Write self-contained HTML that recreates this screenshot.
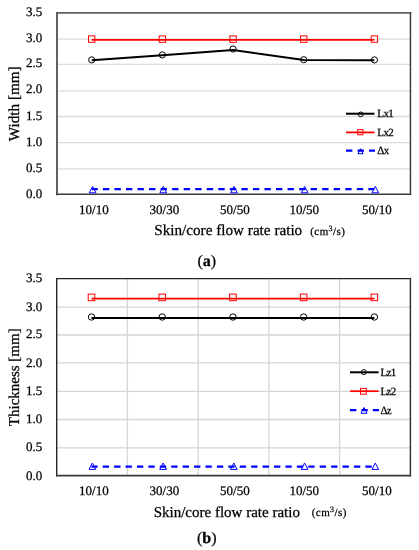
<!DOCTYPE html>
<html><head><meta charset="utf-8"><style>
html,body{margin:0;padding:0;background:#fff;}
svg{display:block;}
text{font-family:"Liberation Serif","Times New Roman",serif;fill:#000;stroke:#000;stroke-width:0.25px;text-rendering:geometricPrecision;}
.tk{font-size:13px;}
.lg{font-size:11px;letter-spacing:-0.6px;}
.ax{font-size:15.2px;}
.un{font-size:11px;letter-spacing:0.4px;}
.sup{font-size:8px;}
.cap{font-size:16px;}
</style></head><body>
<svg width="419" height="550" viewBox="0 0 419 550">
<rect width="419" height="550" fill="#fff"/>
<line x1="57" y1="168.9" x2="410.4" y2="168.9" stroke="#dcdcdc" stroke-width="1.3"/>
<line x1="57" y1="142.6" x2="410.4" y2="142.6" stroke="#dcdcdc" stroke-width="1.3"/>
<line x1="57" y1="116.5" x2="410.4" y2="116.5" stroke="#dcdcdc" stroke-width="1.3"/>
<line x1="57" y1="90.8" x2="410.4" y2="90.8" stroke="#dcdcdc" stroke-width="1.3"/>
<line x1="57" y1="64.4" x2="410.4" y2="64.4" stroke="#dcdcdc" stroke-width="1.3"/>
<line x1="57" y1="39.2" x2="410.4" y2="39.2" stroke="#dcdcdc" stroke-width="1.3"/>
<line x1="57" y1="12.9" x2="410.4" y2="12.9" stroke="#606060" stroke-width="1.8" stroke-linecap="square"/>
<line x1="57" y1="12.9" x2="57" y2="194.3" stroke="#5a5a5a" stroke-width="1.9" stroke-linecap="square"/>
<line x1="410.45" y1="12.9" x2="410.45" y2="194.3" stroke="#3c3c3c" stroke-width="1.5" stroke-linecap="square"/>
<line x1="57" y1="194.3" x2="410.45" y2="194.3" stroke="#3c3c3c" stroke-width="1.5" stroke-linecap="square"/>
<text x="42.3" y="198.15" text-anchor="end" class="tk">0.0</text>
<text x="42.3" y="172.05" text-anchor="end" class="tk">0.5</text>
<text x="42.3" y="145.75" text-anchor="end" class="tk">1.0</text>
<text x="42.3" y="120.15" text-anchor="end" class="tk">1.5</text>
<text x="42.3" y="93.45" text-anchor="end" class="tk">2.0</text>
<text x="42.3" y="67.15" text-anchor="end" class="tk">2.5</text>
<text x="42.3" y="41.55" text-anchor="end" class="tk">3.0</text>
<text x="42.3" y="15.75" text-anchor="end" class="tk">3.5</text>
<text x="93.9" y="213.8" text-anchor="middle" class="tk">10/10</text>
<text x="164.4" y="213.8" text-anchor="middle" class="tk">30/30</text>
<text x="234.9" y="213.8" text-anchor="middle" class="tk">50/50</text>
<text x="304.3" y="213.8" text-anchor="middle" class="tk">10/50</text>
<text x="376.9" y="213.8" text-anchor="middle" class="tk">50/10</text>
<polyline points="91.7,60.2 162.38,55.3 233.06,49.9 303.74,60.1 374.42,60.2" fill="none" stroke="#000" stroke-width="2"/>
<circle cx="91.7" cy="59.9" r="3.1" fill="none" stroke="#000" stroke-width="1.0"/>
<circle cx="162.38" cy="54.9" r="3.1" fill="none" stroke="#000" stroke-width="1.0"/>
<circle cx="233.06" cy="49" r="3.1" fill="none" stroke="#000" stroke-width="1.0"/>
<circle cx="303.74" cy="59.7" r="3.1" fill="none" stroke="#000" stroke-width="1.0"/>
<circle cx="374.42" cy="59.9" r="3.1" fill="none" stroke="#000" stroke-width="1.0"/>
<polyline points="91.7,39.9 162.38,39.9 233.06,39.9 303.74,39.9 374.42,39.9" fill="none" stroke="#f00" stroke-width="1.8"/>
<rect x="88.5" y="35.9" width="6.4" height="6.4" fill="none" stroke="#f00" stroke-width="1.0"/>
<rect x="159.18" y="35.9" width="6.4" height="6.4" fill="none" stroke="#f00" stroke-width="1.0"/>
<rect x="229.86" y="35.9" width="6.4" height="6.4" fill="none" stroke="#f00" stroke-width="1.0"/>
<rect x="300.54" y="35.9" width="6.4" height="6.4" fill="none" stroke="#f00" stroke-width="1.0"/>
<rect x="371.22" y="35.9" width="6.4" height="6.4" fill="none" stroke="#f00" stroke-width="1.0"/>
<polyline points="91.7,189.1 162.38,189.1 233.06,189.1 303.74,189.1 374.42,189.1" fill="none" stroke="#00f" stroke-width="2.1" stroke-dasharray="6.4 5.14" stroke-dashoffset="0.34"/>
<polygon points="92.6,186.4 95.96,192.8 89.24,192.8" fill="none" stroke="#00f" stroke-width="1.0"/>
<polygon points="163.28,186.4 166.64,192.8 159.92,192.8" fill="none" stroke="#00f" stroke-width="1.0"/>
<polygon points="233.96,186.4 237.32,192.8 230.6,192.8" fill="none" stroke="#00f" stroke-width="1.0"/>
<polygon points="304.64,186.4 308,192.8 301.28,192.8" fill="none" stroke="#00f" stroke-width="1.0"/>
<polygon points="375.32,186.4 378.68,192.8 371.96,192.8" fill="none" stroke="#00f" stroke-width="1.0"/>
<line x1="346" y1="113.7" x2="374.5" y2="113.7" stroke="#000" stroke-width="2"/>
<circle cx="360.7" cy="114.4" r="2.4" fill="none" stroke="#000" stroke-width="1.0"/>
<text x="377.3" y="117" class="lg">Lx1</text>
<line x1="346" y1="132.4" x2="374.5" y2="132.4" stroke="#f00" stroke-width="1.8"/>
<rect x="357.7" y="129.6" width="5.2" height="5.2" fill="none" stroke="#f00" stroke-width="1.0"/>
<text x="377.3" y="135.5" class="lg">Lx2</text>
<line x1="346" y1="150.6" x2="375" y2="150.6" stroke="#00f" stroke-width="2.1" stroke-dasharray="6.4 5.14"/>
<polygon points="360.5,148.7 363.12,153.7 357.88,153.7" fill="none" stroke="#00f" stroke-width="1.0"/>
<text x="377.3" y="153.8" class="lg">&#916;x</text>
<text transform="translate(18.7,103.8) rotate(-90)" text-anchor="middle" class="ax" style="font-size:15.2px">Width [mm]</text>
<text x="154.2" y="234.6" class="ax" style="font-size:15.2px">Skin/core flow rate ratio</text>
<text x="310.3" y="234.6" class="un">(cm<tspan class="sup" dy="-4">3</tspan><tspan dy="4">/s)</tspan></text>
<text x="197.5" y="266" class="cap">(<tspan font-weight="bold">a</tspan>)</text>
<line x1="56.7" y1="447.9" x2="410.4" y2="447.9" stroke="#d6d6d6" stroke-width="1.3"/>
<line x1="56.7" y1="419.5" x2="410.4" y2="419.5" stroke="#d6d6d6" stroke-width="1.3"/>
<line x1="56.7" y1="391.4" x2="410.4" y2="391.4" stroke="#d6d6d6" stroke-width="1.3"/>
<line x1="56.7" y1="362.8" x2="410.4" y2="362.8" stroke="#d6d6d6" stroke-width="1.3"/>
<line x1="56.7" y1="335" x2="410.4" y2="335" stroke="#d6d6d6" stroke-width="1.3"/>
<line x1="56.7" y1="307.2" x2="410.4" y2="307.2" stroke="#d6d6d6" stroke-width="1.3"/>
<line x1="127.4" y1="278.6" x2="127.4" y2="475.5" stroke="#d6d6d6" stroke-width="1.3"/>
<line x1="198.2" y1="278.6" x2="198.2" y2="475.5" stroke="#d6d6d6" stroke-width="1.3"/>
<line x1="268.9" y1="278.6" x2="268.9" y2="475.5" stroke="#d6d6d6" stroke-width="1.3"/>
<line x1="339.7" y1="278.6" x2="339.7" y2="475.5" stroke="#d6d6d6" stroke-width="1.3"/>
<line x1="56.7" y1="278.6" x2="410.4" y2="278.6" stroke="#262626" stroke-width="1.4" stroke-linecap="square"/>
<line x1="56.7" y1="278.6" x2="56.7" y2="475.6" stroke="#262626" stroke-width="1.4" stroke-linecap="square"/>
<line x1="410.4" y1="278.6" x2="410.4" y2="475.6" stroke="#2a2a2a" stroke-width="1.4" stroke-linecap="square"/>
<line x1="56.7" y1="475.6" x2="410.4" y2="475.6" stroke="#3a3a3a" stroke-width="1.6" stroke-linecap="square"/>
<text x="42.3" y="479.55" text-anchor="end" class="tk">0.0</text>
<text x="42.3" y="450.75" text-anchor="end" class="tk">0.5</text>
<text x="42.3" y="423.05" text-anchor="end" class="tk">1.0</text>
<text x="42.3" y="394.85" text-anchor="end" class="tk">1.5</text>
<text x="42.3" y="366.65" text-anchor="end" class="tk">2.0</text>
<text x="42.3" y="337.85" text-anchor="end" class="tk">2.5</text>
<text x="42.3" y="310.55" text-anchor="end" class="tk">3.0</text>
<text x="42.3" y="281.55" text-anchor="end" class="tk">3.5</text>
<text x="93.9" y="494.9" text-anchor="middle" class="tk">10/10</text>
<text x="164.4" y="494.9" text-anchor="middle" class="tk">30/30</text>
<text x="234.9" y="494.9" text-anchor="middle" class="tk">50/50</text>
<text x="304.3" y="494.9" text-anchor="middle" class="tk">10/50</text>
<text x="376.9" y="494.9" text-anchor="middle" class="tk">50/10</text>
<polyline points="91.5,318 162.22,318 232.94,318 303.66,318 374.38,318" fill="none" stroke="#000" stroke-width="2"/>
<circle cx="91.5" cy="317" r="3.2" fill="none" stroke="#000" stroke-width="1.0"/>
<circle cx="162.22" cy="317" r="3.2" fill="none" stroke="#000" stroke-width="1.0"/>
<circle cx="232.94" cy="317" r="3.2" fill="none" stroke="#000" stroke-width="1.0"/>
<circle cx="303.66" cy="317" r="3.2" fill="none" stroke="#000" stroke-width="1.0"/>
<circle cx="374.38" cy="317" r="3.2" fill="none" stroke="#000" stroke-width="1.0"/>
<polyline points="91.5,298.6 162.22,298.6 232.94,298.6 303.66,298.6 374.38,298.6" fill="none" stroke="#f00" stroke-width="1.7"/>
<rect x="88.2" y="294.1" width="6.6" height="6.6" fill="none" stroke="#f00" stroke-width="1.0"/>
<rect x="158.92" y="294.1" width="6.6" height="6.6" fill="none" stroke="#f00" stroke-width="1.0"/>
<rect x="229.64" y="294.1" width="6.6" height="6.6" fill="none" stroke="#f00" stroke-width="1.0"/>
<rect x="300.36" y="294.1" width="6.6" height="6.6" fill="none" stroke="#f00" stroke-width="1.0"/>
<rect x="371.08" y="294.1" width="6.6" height="6.6" fill="none" stroke="#f00" stroke-width="1.0"/>
<polyline points="91.5,466.6 162.22,466.6 232.94,466.6 303.66,466.6 374.38,466.6" fill="none" stroke="#00f" stroke-width="2.1" stroke-dasharray="6.35 5.07" stroke-dashoffset="0.22"/>
<polygon points="92.4,463 95.76,469.4 89.04,469.4" fill="none" stroke="#00f" stroke-width="1.0"/>
<polygon points="163.12,463 166.48,469.4 159.76,469.4" fill="none" stroke="#00f" stroke-width="1.0"/>
<polygon points="233.84,463 237.2,469.4 230.48,469.4" fill="none" stroke="#00f" stroke-width="1.0"/>
<polygon points="304.56,463 307.92,469.4 301.2,469.4" fill="none" stroke="#00f" stroke-width="1.0"/>
<polygon points="375.28,463 378.64,469.4 371.92,469.4" fill="none" stroke="#00f" stroke-width="1.0"/>
<line x1="350" y1="372.3" x2="378.6" y2="372.3" stroke="#000" stroke-width="2"/>
<circle cx="363.8" cy="372.1" r="2.5" fill="none" stroke="#000" stroke-width="1.0"/>
<text x="380.4" y="375.8" class="lg">Lz1</text>
<line x1="350" y1="391.2" x2="378.6" y2="391.2" stroke="#f00" stroke-width="1.7"/>
<rect x="360.5" y="388.4" width="5.8" height="5.8" fill="none" stroke="#f00" stroke-width="1.0"/>
<text x="380.4" y="394.8" class="lg">Lz2</text>
<line x1="350" y1="410.1" x2="379" y2="410.1" stroke="#00f" stroke-width="2.1" stroke-dasharray="6.35 5.07"/>
<polygon points="364,407.5 367.05,413.3 360.95,413.3" fill="none" stroke="#00f" stroke-width="1.0"/>
<text x="380.4" y="413.6" class="lg">&#916;z</text>
<text transform="translate(18.9,377.25) rotate(-90)" text-anchor="middle" class="ax" style="font-size:15.0px">Thickness [mm]</text>
<text x="153.7" y="516.7" class="ax" style="font-size:15.0px">Skin/core flow rate ratio</text>
<text x="311.8" y="515.8" class="un">(cm<tspan class="sup" dy="-4">3</tspan><tspan dy="4">/s)</tspan></text>
<text x="196.9" y="543" class="cap">(<tspan font-weight="bold">b</tspan>)</text>
</svg>
</body></html>
